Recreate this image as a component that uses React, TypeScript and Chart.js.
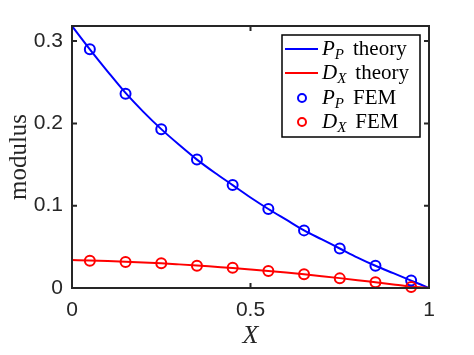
import React, { useEffect, useRef } from 'react';
import { Chart, registerables } from 'chart.js';
Chart.register(...registerables);

const theoryX = [0, 0.05, 0.1, 0.15, 0.2, 0.25, 0.3, 0.35, 0.4, 0.45, 0.5, 0.55, 0.6, 0.65, 0.7, 0.75, 0.8, 0.85, 0.9, 0.95, 1];
const ppTheory = [0.3183, 0.29, 0.263, 0.237, 0.214, 0.193, 0.174, 0.156, 0.14, 0.125, 0.11, 0.096, 0.083, 0.07, 0.059, 0.048, 0.037, 0.027, 0.018, 0.009, 0];
const dxTheory = [0.034, 0.0335, 0.0328, 0.032, 0.031, 0.03, 0.0287, 0.0273, 0.0258, 0.0243, 0.0226, 0.0208, 0.0188, 0.0167, 0.0144, 0.012, 0.0095, 0.0069, 0.0043, 0.0018, 0];
const femX = [0.05, 0.15, 0.25, 0.35, 0.45, 0.55, 0.65, 0.75, 0.85, 0.95];
const ppFem = [0.29, 0.236, 0.193, 0.156, 0.125, 0.096, 0.07, 0.048, 0.027, 0.009];
const dxFem = [0.033, 0.0315, 0.03, 0.027, 0.0247, 0.0206, 0.0166, 0.0117, 0.0069, 0.0012];
const xTicks = [0, 0.5, 1];
const yTicks = [0, 0.1, 0.2, 0.3];
const legendMain = ['P', 'D', 'P', 'D'];
const legendSub = ['P', 'X', 'P', 'X'];
const legendSuffix = ['theory', 'theory', 'FEM', 'FEM'];
const legendKind = ['line', 'line', 'marker', 'marker'];
const legendColor = ['#0000ff', '#ff0000', '#0000ff', '#ff0000'];

const AXIS = '#262626';
const SERIF = '"Liberation Serif", "Times New Roman", serif';
const SANS = '"Liberation Sans", Arial, sans-serif';

const frame = {
  id: 'frame',
  afterDraw(chart: any) {
    const { ctx, chartArea: a, scales } = chart;
    const xs = scales.x, ys = scales.y;
    ctx.save();
    ctx.strokeStyle = AXIS;
    ctx.lineWidth = 2;
    ctx.lineCap = 'butt';
    const tl = 5;
    ctx.beginPath();
    xTicks.forEach((v) => {
      const px = xs.getPixelForValue(v);
      ctx.moveTo(px, a.bottom); ctx.lineTo(px, a.bottom - tl);
      ctx.moveTo(px, a.top); ctx.lineTo(px, a.top + tl);
    });
    yTicks.forEach((v) => {
      const py = ys.getPixelForValue(v);
      ctx.moveTo(a.left, py); ctx.lineTo(a.left + tl, py);
      ctx.moveTo(a.right, py); ctx.lineTo(a.right - tl, py);
    });
    ctx.stroke();
    ctx.strokeRect(a.left, a.top, a.right - a.left, a.bottom - a.top);

    // legend
    const bx = 282, by = 35, bw = 138, bh = 102;
    ctx.fillStyle = '#ffffff';
    ctx.fillRect(bx, by, bw, bh);
    ctx.lineWidth = 1.5;
    ctx.strokeStyle = '#000';
    ctx.strokeRect(bx, by, bw, bh);
    const rows = [49, 73, 98, 122];
    rows.forEach((ry, i) => {
      const c = legendColor[i];
      ctx.strokeStyle = c;
      ctx.lineWidth = 2;
      if (legendKind[i] === 'line') {
        ctx.beginPath(); ctx.moveTo(285, ry); ctx.lineTo(318, ry); ctx.stroke();
      } else {
        ctx.beginPath(); ctx.arc(302, ry, 4, 0, Math.PI * 2); ctx.stroke();
      }
      ctx.fillStyle = '#000';
      ctx.textBaseline = 'alphabetic';
      ctx.textAlign = 'left';
      let x = 322;
      const base = ry + 6;
      ctx.font = `italic 21px ${SERIF}`;
      ctx.fillText(legendMain[i], x, base);
      x += ctx.measureText(legendMain[i]).width;
      ctx.font = `italic 15px ${SERIF}`;
      ctx.fillText(legendSub[i], x, base + 4);
      x += ctx.measureText(legendSub[i]).width + 9;
      ctx.font = `21px ${SERIF}`;
      ctx.fillText(legendSuffix[i], x, base);
    });
    ctx.restore();
  },
};

export default function App() {
  const ref = useRef<HTMLCanvasElement>(null);
  useEffect(() => {
    const theoryPts = (ys: number[]) => theoryX.map((x, i) => ({ x, y: ys[i] }));
    const femPts = (ys: number[]) => femX.map((x, i) => ({ x, y: ys[i] }));
    const chart = new Chart(ref.current!, {
      type: 'scatter',
      data: {
        datasets: [
          { label: 'D_X FEM', data: femPts(dxFem), showLine: false, pointRadius: 5, pointBorderWidth: 2, pointBorderColor: '#ff0000', pointBackgroundColor: 'rgba(0,0,0,0)', clip: false } as any,
          { label: 'P_P FEM', data: femPts(ppFem), showLine: false, pointRadius: 5, pointBorderWidth: 2, pointBorderColor: '#0000ff', pointBackgroundColor: 'rgba(0,0,0,0)', clip: false } as any,
          { label: 'D_X theory', data: theoryPts(dxTheory), showLine: true, pointRadius: 0, borderColor: '#ff0000', borderWidth: 2, cubicInterpolationMode: 'monotone' } as any,
          { label: 'P_P theory', data: theoryPts(ppTheory), showLine: true, pointRadius: 0, borderColor: '#0000ff', borderWidth: 2, cubicInterpolationMode: 'monotone' } as any,
        ],
      },
      options: {
        animation: false,
        responsive: false,
        maintainAspectRatio: false,
        events: [],
        layout: { padding: { top: 26, right: 45, left: 0, bottom: 0 } },
        plugins: { legend: { display: false }, tooltip: { enabled: false } },
        scales: {
          x: {
            type: 'linear', min: 0, max: 1,
            afterFit: (s: any) => { s.height = 67; },
            afterBuildTicks: (s: any) => { s.ticks = xTicks.map((v) => ({ value: v })); },
            grid: { display: false, drawTicks: false },
            border: { display: false },
            ticks: { color: AXIS, font: { family: SANS, size: 21 }, padding: 10, maxRotation: 0, callback: (v: any) => String(v) },
            title: { display: true, text: 'X', color: AXIS, font: { family: SERIF, size: 26, style: 'italic', lineHeight: 1.2 }, padding: { top: 0, bottom: 3 } },
          },
          y: {
            type: 'linear', min: 0, max: 0.3183,
            afterFit: (s: any) => { s.width = 72; },
            afterBuildTicks: (s: any) => { s.ticks = yTicks.map((v) => ({ value: v })); },
            grid: { display: false, drawTicks: false },
            border: { display: false },
            ticks: { color: AXIS, font: { family: SANS, size: 21 }, padding: 9, callback: (v: any) => String(Math.round(v * 10) / 10) },
            title: { display: true, text: 'modulus', color: AXIS, font: { family: SERIF, size: 25, lineHeight: 1.2 }, padding: { top: 4, bottom: 0 } },
          },
        },
      },
      plugins: [frame],
    });
    return () => chart.destroy();
  }, []);
  return (
    <div style={{ position: 'fixed', left: 0, top: 0, width: 474, height: 355, background: '#fff' }}>
      <canvas ref={ref} width={474} height={355} style={{ width: 474, height: 355 }} />
    </div>
  );
}
